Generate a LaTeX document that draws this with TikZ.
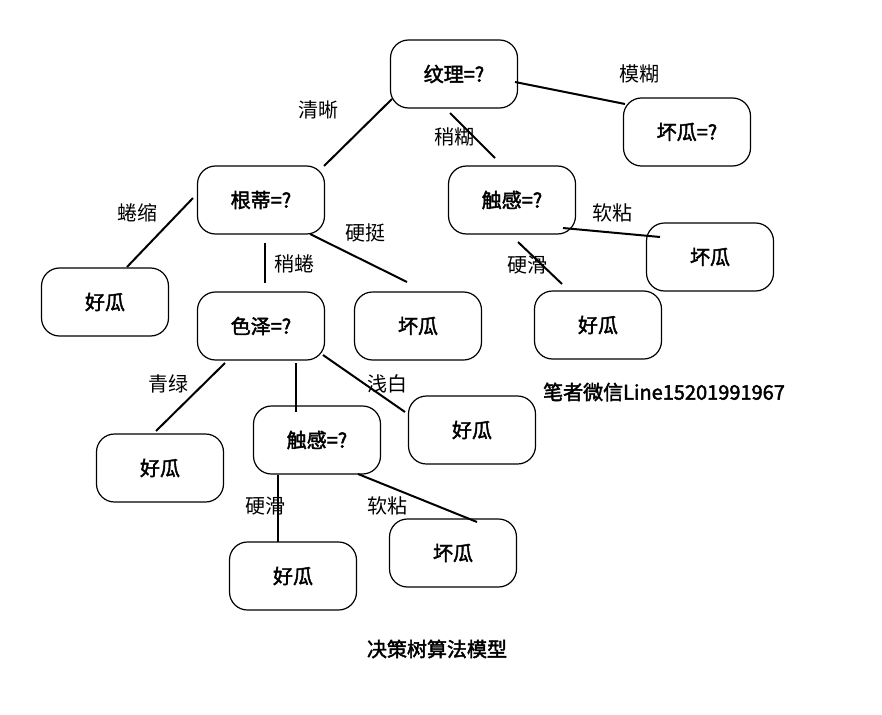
\documentclass[tikz,border=0pt]{standalone}
\usepackage{fontspec}
\setmainfont{Noto Sans CJK SC}
\newfontfamily\boxfont[FakeBold=2.2]{Noto Sans CJK SC}
\usetikzlibrary{calc}

\begin{document}
\begin{tikzpicture}[
    x=1pt, y=-1pt,
    box/.style={rectangle, draw, line width=1.2pt, minimum width=127pt, minimum height=68pt, rounded corners=18pt, align=center, font=\fontsize{20}{24}\boxfont},
    lbl/.style={font=\fontsize{20}{24}\selectfont},
    edge/.style={line width=2pt}
]

\useasboundingbox (0,0) rectangle (882,714);

\node[box] (wenli) at (454,74) {纹理=?};
\node[box] (huaiA) at (687,132) {坏瓜=?};
\node[box] (gendi) at (261,200) {根蒂=?};
\node[box] (chuganA) at (512,200) {触感=?};
\node[box] (huaiB) at (710,257) {坏瓜};
\node[box] (haoA) at (105,302) {好瓜};
\node[box] (sezhe) at (261,326) {色泽=?};
\node[box] (huaiC) at (418,326) {坏瓜};
\node[box] (haoB) at (598,325) {好瓜};
\node[box] (haoC) at (160,468) {好瓜};
\node[box] (chuganB) at (317,440) {触感=?};
\node[box] (haoD) at (472,430) {好瓜};
\node[box] (haoE) at (293,576) {好瓜};
\node[box] (huaiD) at (453,553) {坏瓜};

\node[lbl] (qingxi) at (318,110) {清晰};
\node[lbl] (shaohu) at (454,137) {稍糊};
\node[lbl] (mohu) at (639,74) {模糊};
\node[lbl] (quansuo) at (137,213) {蜷缩};
\node[lbl] (shaoquan) at (294,264) {稍蜷};
\node[lbl] (yingting) at (365,233) {硬挺};
\node[lbl] (ruanzhanA) at (612,213) {软粘};
\node[lbl] (yinghuaA) at (527,265) {硬滑};
\node[lbl] (qinglv) at (168,384) {青绿};
\node[lbl] (qianbai) at (387,384) {浅白};
\node[lbl] (yinghuaB) at (265,506) {硬滑};
\node[lbl] (ruanzhanB) at (387,506) {软粘};

\node[font=\fontsize{20}{24}\boxfont] (weixin) at (664,392) {笔者微信Line15201991967};
\node[font=\fontsize{20}{24}\boxfont] (title) at (437,649) {决策树算法模型};

\draw[edge] ($(wenli)+(-62,25)$) -- ($(gendi)+(63,-34)$);
\draw[edge] ($(wenli)+(61,8)$) -- ($(huaiA)+(-62,-28)$);
\draw[edge] ($(wenli)+(-4,39)$) -- ($(chuganA)+(-17,-42)$);
\draw[edge] ($(gendi)+(-68,-2)$) -- ($(haoA)+(22,-35)$);
\draw[edge] ($(gendi)+(4,43)$) -- ($(sezhe)+(4,-43)$);
\draw[edge] ($(gendi)+(49,34)$) -- ($(huaiC)+(-11,-44)$);
\draw[edge] ($(chuganA)+(51,28)$) -- ($(huaiB)+(-50,-20)$);
\draw[edge] ($(chuganA)+(6,42)$) -- ($(haoB)+(-36,-41)$);
\draw[edge] ($(sezhe)+(-36,37)$) -- ($(haoC)+(-4,-37)$);
\draw[edge] ($(sezhe)+(35,37)$) -- ($(chuganB)+(-21,-28)$);
\draw[edge] ($(sezhe)+(62,29)$) -- ($(haoD)+(-67,-18)$);
\draw[edge] ($(chuganB)+(-39,35)$) -- ($(haoE)+(-15,-34)$);
\draw[edge] ($(chuganB)+(41,34)$) -- ($(huaiD)+(24,-31)$);

\end{tikzpicture}
\end{document}
